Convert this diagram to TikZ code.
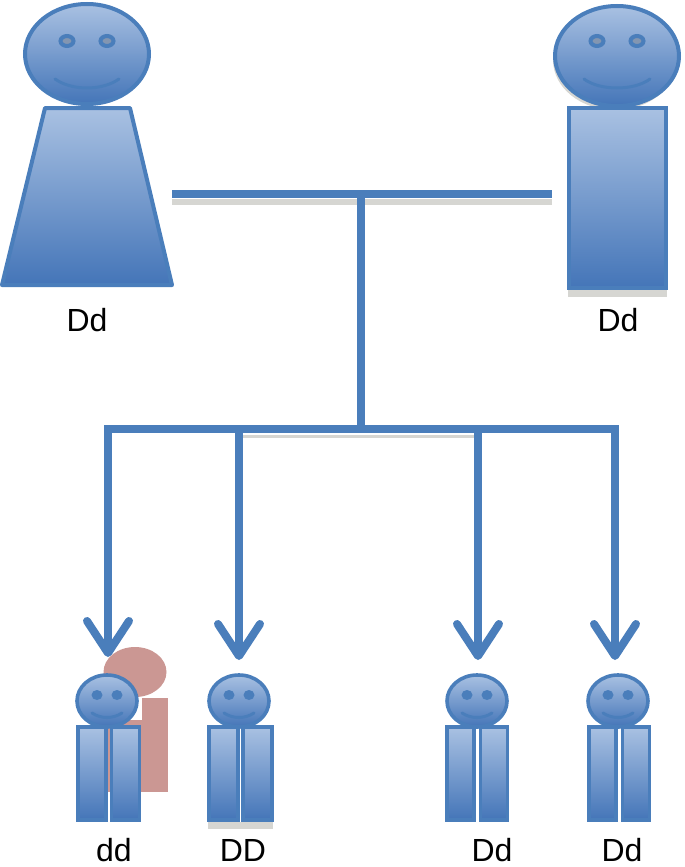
\documentclass[tikz,border=0pt]{standalone}
\usepackage{fontspec}
\setmainfont{Liberation Sans}
\usetikzlibrary{shapes.geometric,arrows.meta}
\definecolor{blueline}{HTML}{4A7EBB}
\definecolor{bluetop}{HTML}{A9C1E2}
\definecolor{bluemid}{HTML}{86A5D2}
\definecolor{bluebot}{HTML}{4475B8}
\definecolor{shadowgray}{HTML}{D6D6D2}
\definecolor{redfig}{HTML}{CB9793}
\tikzset{
  fig/.style={draw=blueline,top color=bluetop,middle color=bluemid,bottom color=bluebot,inner sep=0pt,outer sep=0pt},
  headbig/.style={fig,ellipse,line width=4pt,minimum width=124pt,minimum height=100pt},
  headsmall/.style={fig,ellipse,line width=3.6pt,minimum width=60pt,minimum height=52pt},
  bodyrect/.style={fig,rectangle,line width=3.4pt},
  eye/.style={ellipse,draw=blueline,fill=bluemid!60!gray,line width=4pt,minimum width=13pt,minimum height=10pt,inner sep=0pt},
  eyesmall/.style={ellipse,fill=blueline,minimum width=11pt,minimum height=10pt,inner sep=0pt},
  smile/.style={draw=blueline,line width=3pt,line cap=round},
  conn/.style={draw=blueline,line width=8pt},
  shade/.style={draw=shadowgray,line width=6pt},
  drop/.style={draw=blueline,line width=7.5pt,-{Straight Barb[length=32pt,width=42pt,line width=8pt,round]}},
  lab/.style={font=\fontsize{32}{32}\selectfont,text=black,inner sep=0pt},
  ghost/.style={fill=redfig,draw=none,inner sep=0pt,outer sep=0pt}
}
\newcommand{\smallkid}[5]{% name, head x, left bar x, right bar x, bar width
  \node[bodyrect,minimum width=#5pt,minimum height=93pt] (#1l) at (#3,773.5) {};
  \node[bodyrect,minimum width=#5pt,minimum height=93pt] (#1r) at (#4,773.5) {};
  \node[headsmall] (#1head) at (#2,701) {};
  \node[eyesmall] (#1el) at (#2-10,695) {};
  \node[eyesmall] (#1er) at (#2+10,695) {};
  \draw[smile] (#2-15,713) .. controls (#2-6,719) and (#2+6,719) .. (#2+15,713);
}
\begin{document}
\begin{tikzpicture}[x=1pt,y=-1pt]
\useasboundingbox (0,0) rectangle (685,867);
% shadows of the right parent
\node[ellipse,fill=shadowgray,minimum width=124pt,minimum height=100pt,inner sep=0pt] (shhead) at (615,60) {};
\fill[shadowgray] (568,120) rectangle (667,297);
% left parent
\coordinate (tl) at (45,108);
\coordinate (tr) at (130,108);
\coordinate (br) at (172,285);
\coordinate (bl) at (2,285);
\draw[fig,line width=4pt,line join=round] (tl) -- (tr) -- (br) -- (bl) -- cycle;
\node[headbig] (lhead) at (87,54) {};
\node[eye] (lel) at (67,41) {};
\node[eye] (ler) at (107,41) {};
\draw[smile] (55,79) .. controls (72,91) and (102,91) .. (119,79);
\node[lab] (llab) at (87,320) {Dd};
% right parent
\node[bodyrect,line width=4pt,minimum width=97pt,minimum height=180pt] (rbody) at (617,198) {};
\node[headbig] (rhead) at (617,56) {};
\node[eye] (rel) at (597,41) {};
\node[eye] (rer) at (637,41) {};
\draw[smile] (584,79) .. controls (600,91) and (634,91) .. (650,79);
\node[lab] (rlab) at (618,320) {Dd};
% connectors
\coordinate (mleft) at (172,202);
\coordinate (mright) at (552,202);
\draw[shade] (mleft) -- (mright);
\coordinate (pl) at (172,194);
\coordinate (pr) at (552,194);
\coordinate (pm) at (361,194);
\coordinate (j) at (361,429);
\coordinate (sl) at (108,429);
\coordinate (sd) at (239,429);
\coordinate (sh) at (478,429);
\coordinate (sr) at (615,429);
\coordinate (ss) at (240,436);
\coordinate (se) at (478,436);
\draw[draw=shadowgray,line width=3pt] (ss) -- (se);
\draw[conn] (pl) -- (pr);
\draw[conn] (pm) -- (j);
\draw[conn] ([xshift=-4pt]sl) -- ([xshift=4pt]sr);
% lower connectors' arrow ends
\coordinate (a1) at (108,657);
\coordinate (a2) at (239,660);
\coordinate (a3) at (478,660);
\coordinate (a4) at (615,660);
\foreach \s/\e in {sl/a1,sd/a2,sh/a3,sr/a4}{
  \draw[drop] ([yshift=3.5pt]\s) -- (\e);
}
% red ghost figure
\node[ghost,ellipse,minimum width=63pt,minimum height=50pt] (ghead) at (135,672) {};
\node[ghost,rectangle,minimum width=26pt,minimum height=94pt] (gbody) at (155,745) {};
\node[ghost,rectangle,minimum width=40pt,minimum height=72pt] (gbody2) at (125,756) {};
% children
\fill[shadowgray] (208,822) rectangle (273,829);
\smallkid{a}{107}{92}{125.5}{28}
\smallkid{b}{239}{223.5}{257.5}{29}
\smallkid{c}{477}{460.5}{494}{27}
\smallkid{d}{618}{602.5}{636}{27}
\node[lab] (alab) at (114,850) {dd};
\node[lab] (blab) at (243,850) {DD};
\node[lab] (clab) at (492,850) {Dd};
\node[lab] (dlab) at (622,850) {Dd};
\end{tikzpicture}
\end{document}
